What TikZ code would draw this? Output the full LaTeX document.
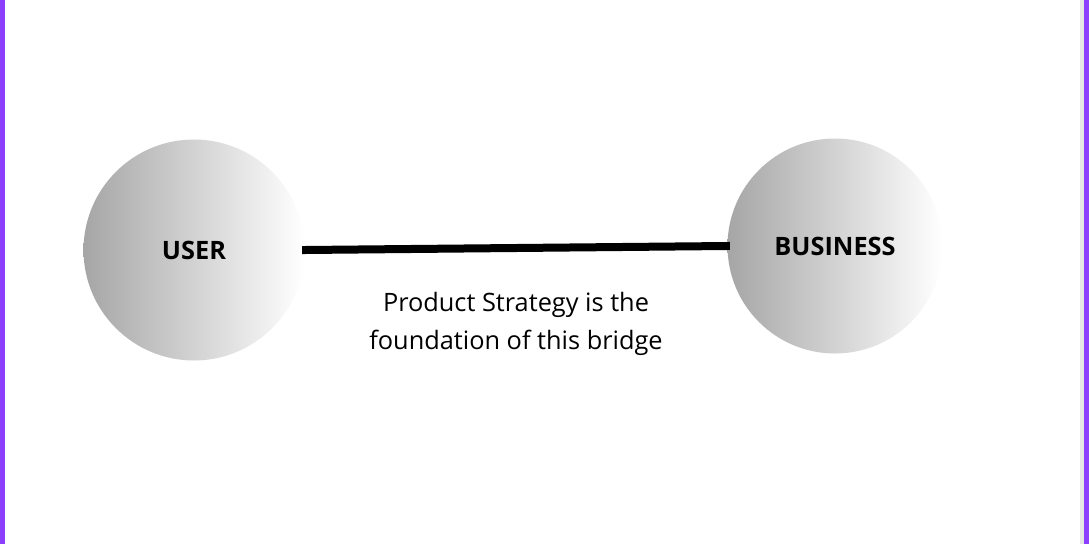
\documentclass[tikz,border=0pt]{standalone}
\usepackage{fontspec}
\setmainfont{Open Sans}
\definecolor{brd}{HTML}{8C3FFF}
\tikzset{ball/.style={circle,draw=none,left color=black!35,right color=white,font=\bfseries\fontsize{19}{22}\selectfont}}
\begin{document}
\begin{tikzpicture}[x=0.75pt,y=-0.75pt]
\useasboundingbox (0,0) rectangle (1090,544);
\fill[white] (0,0) rectangle (1090,544);
\fill[brd] (0,0) rectangle (5,544);
\fill[black!10] (1080,0) rectangle (1084,544);
\fill[brd] (1084,0) rectangle (1089,544);
\node[ball,minimum size=165.75pt] (user) at (194,250) {USER};
\node[ball,minimum size=161.25pt] (bus) at (835,246) {BUSINESS};
\draw[line width=6pt,shorten <=-2pt,shorten >=-2pt] (user.east) -- (bus.west);
\node[align=center,font=\fontsize{19}{29}\selectfont] (t) at (516,324) {Product Strategy is the\\foundation of this bridge};
\end{tikzpicture}
\end{document}
